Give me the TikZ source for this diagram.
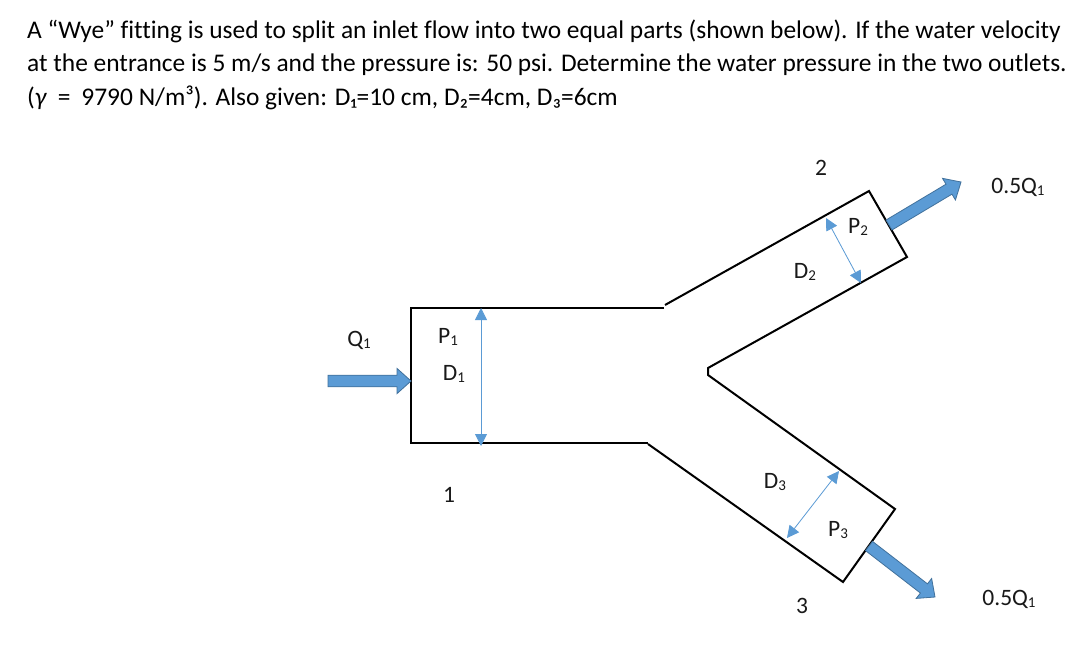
\documentclass[tikz,border=0pt]{standalone}
\usepackage{fontspec}
\setmainfont[Ligatures=NoCommon]{Carlito}
\usetikzlibrary{calc,arrows.meta}
\definecolor{flowblue}{HTML}{5B9BD5}
\definecolor{flowedge}{HTML}{41719C}
\definecolor{dimblue}{HTML}{5B9BD5}
\newcommand{\subd}[1]{\raisebox{-0.12em}{\fontsize{15}{15}\selectfont #1}}
\newcommand{\flowarrow}[2]{%
  \coordinate (h) at ($(#2)!14pt!(#1)$);
  \draw[bigarrow] ($(#1)!5.8pt!90:(#2)$) -- ($(h)!5.8pt!90:(#2)$) -- ($(h)!12.6pt!90:(#2)$) -- (#2)
    -- ($(h)!12.6pt!-90:(#2)$) -- ($(h)!5.8pt!-90:(#2)$) -- ($(#1)!5.8pt!-90:(#2)$) -- cycle;}
\tikzset{
  pipe/.style={draw=black,line width=2pt,line join=miter},
  bigarrow/.style={fill=flowblue,draw=flowedge,line width=0.8pt},
  dimline/.style={draw=dimblue,line width=0.8pt,{Triangle[length=12pt,width=12pt]}-{Triangle[length=12pt,width=12pt]}},
  question/.style={anchor=base west,inner sep=0pt,font=\fontsize{25.43}{25.43}\selectfont,text=black},
  lab/.style={inner sep=0pt,font=\fontsize{23.5}{23.5}\selectfont,text=black!90}
}
\begin{document}
\begin{tikzpicture}[x=1pt,y=-1pt]
\useasboundingbox (0,0) rectangle (1078,648);
\fill[white] (0,0) rectangle (1078,648);
\node[question] (line1) at (27,38) {A “Wye” fitting is used to split an inlet flow into two equal parts (shown below). If the water velocity};
\node[question] (line2) at (27,71) {at the entrance is 5 m/s and the pressure is: 50 psi. Determine the water pressure in the two outlets.};
\node[question] (line3) at (27,105) {(\textit{γ}\hspace{0.2em} = \hspace{0.2em}9790 N/m³). Also given: D₁=10 cm, D₂=4cm, D₃=6cm};
% fitting
\draw[pipe] (664,308) -- (411,308) -- (411,443) -- (648,443);
\draw[pipe] (665,305) -- (869,191) -- (907,257) -- (708,368) -- (708,375) -- (895,509) -- (843,582) -- (648,444);
% flow arrows
\coordinate (q1a) at (328,381); \coordinate (q1b) at (411,381);
\coordinate (q2a) at (889,225); \coordinate (q2b) at (961,182);
\coordinate (q3a) at (869,546); \coordinate (q3b) at (935,597);
\flowarrow{q1a}{q1b}
\flowarrow{q2a}{q2b}
\flowarrow{q3a}{q3b}
% dimensions
\coordinate (d1a) at (481,308); \coordinate (d1b) at (481,446);
\coordinate (d2a) at (826,218); \coordinate (d2b) at (861,283);
\coordinate (d3a) at (839,471); \coordinate (d3b) at (787,538);
\draw[dimline] (d1a) -- (d1b);
\draw[dimline] (d2a) -- (d2b);
\draw[dimline] (d3a) -- (d3b);
% labels
\node[lab] (q1) at (359,340) {Q\subd{1}};
\node[lab] (p1) at (448,337) {P\subd{1}};
\node[lab] (dd1) at (454,374) {D\subd{1}};
\node[lab] (n1) at (449,495) {1};
\node[lab] (n2) at (821,168) {2};
\node[lab] (p2) at (858,227) {P\subd{2}};
\node[lab] (dd2) at (805,272) {D\subd{2}};
\node[lab] (q2) at (1018,187) {0.5Q\subd{1}};
\node[lab] (dd3) at (775,482) {D\subd{3}};
\node[lab] (p3) at (838,530) {P\subd{3}};
\node[lab] (n3) at (802,606) {3};
\node[lab] (q3) at (1009,599) {0.5Q\subd{1}};
\end{tikzpicture}
\end{document}
